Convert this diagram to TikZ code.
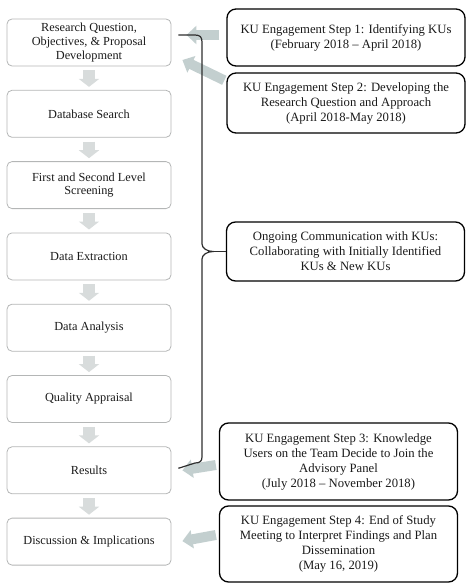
\documentclass[tikz,border=0pt]{standalone}
\usepackage{fontspec}
\setmainfont{Liberation Serif}
\usetikzlibrary{positioning, arrows.meta}

\definecolor{stageline}{HTML}{B4B6B6}
\definecolor{textgrey}{HTML}{1A1A1A}
\definecolor{flowgrey}{HTML}{D8DCDC}
\definecolor{kugrey}{HTML}{C3CFCF}
\definecolor{bracketgrey}{HTML}{2E2E2E}

\begin{document}
\begin{tikzpicture}[x=1pt, y=-1pt, >=Latex,
        stage/.style = {draw=stageline, line width=0.8pt, rounded corners=5pt, minimum width=164pt, minimum height=47pt, inner sep=2pt, align=center, text=textgrey, font=\fontsize{12.3}{13.7}\selectfont},
        kubox/.style = {draw=black, line width=1.3pt, rounded corners=9pt, minimum width=238pt, inner sep=2pt, align=center, text=textgrey, font=\fontsize{12.7}{15}\selectfont},
        flow/.style = {draw=flowgrey, line width=12pt, -{Triangle[width=20pt, length=8pt]}},
        kuarrow/.style = {draw=kugrey, line width=10pt, -{Triangle[width=18pt, length=10pt]}},
        bracket/.style = {draw=bracketgrey, line width=1.2pt},
        ]
        \useasboundingbox (0,0) rectangle (474,586);

        % review stages
        \node [stage] (L1) at (89,42.5) {Research Question,\\Objectives, \& Proposal\\Development};
        \node [stage, below=23.5pt of L1] (L2) {Database Search};
        \node [stage, below=23.5pt of L2] (L3) {First and Second Level\\Screening};
        \node [stage, below=23.5pt of L3] (L4) {Data Extraction};
        \node [stage, below=23.5pt of L4] (L5) {Data Analysis};
        \node [stage, below=23.5pt of L5] (L6) {Quality Appraisal};
        \node [stage, below=23.5pt of L6] (L7) {Results};
        \node [stage, below=23.5pt of L7] (L8) {Discussion \& Implications};

        % engagement steps
        \node [kubox, minimum height=57pt] (S1) at (346,37.5) {KU Engagement Step 1: Identifying KUs\\(February 2018 -- April 2018)};
        \node [kubox, minimum height=60pt] (S2) at (346,103) {KU Engagement Step 2: Developing the\\Research Question and Approach\\(April 2018-May 2018)};
        \node [kubox, minimum height=59pt] (Ongoing) at (345.5,251.5) {Ongoing Communication with KUs:\\Collaborating with Initially Identified\\KUs \& New KUs};
        \node [kubox, minimum height=77pt] (S3) at (338.5,461.5) {KU Engagement Step 3: Knowledge\\Users on the Team Decide to Join the\\Advisory Panel\\(July 2018 -- November 2018)};
        \node [kubox, minimum height=76pt] (S4) at (338.5,544) {KU Engagement Step 4: End of Study\\Meeting to Interpret Findings and Plan\\Dissemination\\(May 16, 2019)};

        \foreach \a/\b in {L1/L2, L2/L3, L3/L4, L4/L5, L5/L6, L6/L7, L7/L8}
            \draw [flow] ([yshift=-4pt]\a.south) -- ([yshift=3pt]\b.north);

        \draw [kuarrow] ([xshift=-7pt,yshift=2.5pt]S1.west) -- ([xshift=15pt,yshift=7.5pt]L1.east);
        \draw [kuarrow] ([xshift=-2pt,yshift=-8pt]S2.north west) -- ([xshift=11pt,yshift=-17.5pt]L1.east);
        \draw [kuarrow] ([xshift=-3pt,yshift=-3.5pt]S3.west) -- ([xshift=11pt]L7.east);
        \draw [kuarrow] ([xshift=-3pt,yshift=9pt]S4.west) -- ([xshift=11pt,yshift=0.5pt]L8.east);

        % brace for ongoing communication
        \coordinate (braceTop) at ([xshift=7pt,yshift=7.5pt]L1.east);
        \coordinate (braceBot) at ([xshift=7pt,yshift=2pt]L7.east);
        \coordinate (braceTip) at (213,251.5);
        \draw [bracket] (braceTop) -- (195,35) .. controls (200,35) and (202,37) .. (202,42)
            -- (202,244) .. controls (202,248) and (207,251.5) .. (braceTip)
            .. controls (207,251.5) and (202,255) .. (202,259)
            -- (202,457) .. controls (202,461) and (200,463) .. (195,463) -- (braceBot);
        \draw [bracket] (braceTip) -- (Ongoing.west);
    \end{tikzpicture}
\end{document}
